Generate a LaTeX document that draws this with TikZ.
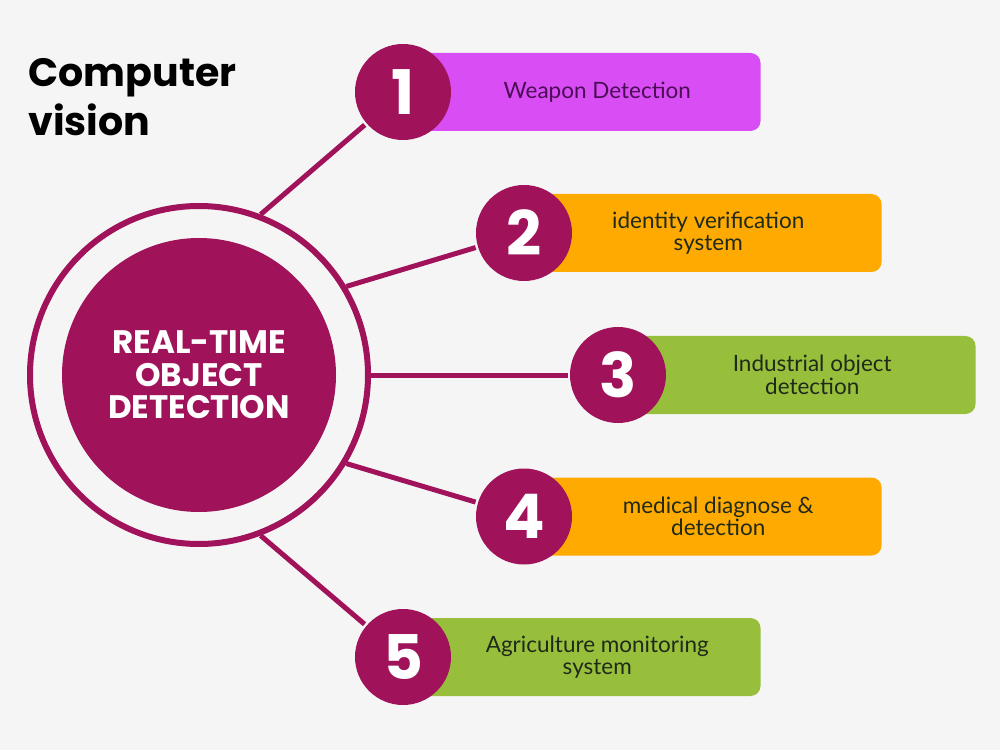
\documentclass[tikz,border=0pt]{standalone}
\usepackage{fontspec}
\usepackage{tikz}
\usepackage{xcolor}
\setmainfont{Lato}
\newfontfamily\popfont{Poppins}
\usetikzlibrary{calc}

\definecolor{berry}{HTML}{A0125A}
\definecolor{bgcol}{HTML}{F5F5F5}
\definecolor{violetbar}{HTML}{D94DF5}
\definecolor{orangebar}{HTML}{FFAA00}
\definecolor{greenbar}{HTML}{98BF3C}
\definecolor{violetink}{HTML}{4A0E54}
\definecolor{ink}{HTML}{1F2A1A}

\begin{document}
\begin{tikzpicture}[line width=0.1cm,
  ring node/.style={circle,draw=berry,line width=0.12cm,minimum size=6.76cm,inner sep=0pt},
  core node/.style={circle,fill=berry,minimum size=5.48cm,text=white,align=center,
    font=\popfont\bfseries\fontsize{18.5}{18.5}\selectfont},
  num node/.style={circle,fill=berry,minimum size=1.92cm,inner sep=0pt,text=white,
    font=\popfont\bfseries\fontsize{35}{35}\selectfont},
  bar node/.style={rounded corners=0.2cm,minimum width=7.1cm,minimum height=1.56cm,anchor=west},
  bar text/.style={align=center,text=ink,xshift=-0.22cm,font=\fontsize{12.8}{12.8}\selectfont}]

  \fill[bgcol] (0,0) rectangle (20,15);
  \useasboundingbox (0,0) rectangle (20,15);

  \node[align=left,anchor=north west,inner sep=0pt,
    font=\popfont\bfseries\fontsize{22.5}{28}\selectfont] (title) at (0.52,13.88) {Computer\\vision};

  \node[ring node] (ring) at (3.98,7.5) {};
  \node[core node] (core) at (ring) {REAL-TIME\\OBJECT\\DETECTION};

  % bars first, numbers on top
  \node[bar node,fill=violetbar] (b1) at (8.06,13.16) {};
  \node[bar node,fill=orangebar] (b2) at (10.48,10.34) {};
  \node[bar node,fill=greenbar]  (b3) at (12.36,7.5) {};
  \node[bar node,fill=orangebar] (b4) at (10.48,4.67) {};
  \node[bar node,fill=greenbar]  (b5) at (8.06,1.86) {};

  \node[num node] (n1) at (b1.west) {1};
  \node[num node] (n2) at (b2.west) {2};
  \node[num node] (n3) at (b3.west) {3};
  \node[num node] (n4) at (b4.west) {4};
  \node[num node] (n5) at (b5.west) {5};

  \node[bar text,text=violetink] (t1) at ($(n1.east)!.5!(b1.east)$) {Weapon Detection};
  \node[bar text,xshift=-0.2cm] (t2) at ($(n2.east)!.5!(b2.east)$) {identity verification\\system};
  \node[bar text] (t3) at ($(n3.east)!.5!(b3.east)$) {Industrial object\\detection};
  \node[bar text] (t4) at ($(n4.east)!.5!(b4.east)$) {medical diagnose \&\\detection};
  \node[bar text] (t5) at ($(n5.east)!.5!(b5.east)$) {Agriculture monitoring\\system};

  \path[draw=berry]
  (ring.69)  edge (n1)
  (ring.31)  edge (n2)
  (ring.0)   edge (n3)
  (ring.-31) edge (n4)
  (ring.-69) edge (n5);
\end{tikzpicture}
\end{document}
